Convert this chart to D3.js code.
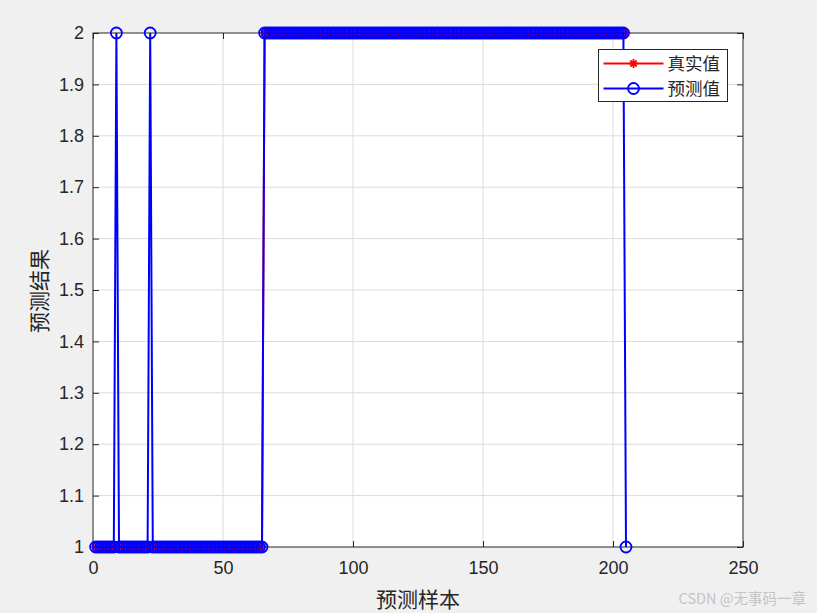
<!DOCTYPE html>
<html lang="zh">
<head>
  <meta charset="UTF-8">
  <title>预测结果</title>
  <script src="https://cdn.jsdelivr.net/npm/d3@7"></script>
  <style>
    body { margin: 0; background: #f0f0f0; }
  </style>
</head>
<body>
<svg class="chart"></svg>
<script>
  // 真实值 (samples 1..205)
  var trueLabel = [
    1,1,1,1,1,1,1,1,1,1,1,1,1,1,1,1,1,1,1,1,
    1,1,1,1,1,1,1,1,1,1,1,1,1,1,1,1,1,1,1,1,
    1,1,1,1,1,1,1,1,1,1,1,1,1,1,1,1,1,1,1,1,
    1,1,1,1,1,2,2,2,2,2,2,2,2,2,2,2,2,2,2,2,
    2,2,2,2,2,2,2,2,2,2,2,2,2,2,2,2,2,2,2,2,
    2,2,2,2,2,2,2,2,2,2,2,2,2,2,2,2,2,2,2,2,
    2,2,2,2,2,2,2,2,2,2,2,2,2,2,2,2,2,2,2,2,
    2,2,2,2,2,2,2,2,2,2,2,2,2,2,2,2,2,2,2,2,
    2,2,2,2,2,2,2,2,2,2,2,2,2,2,2,2,2,2,2,2,
    2,2,2,2,2,2,2,2,2,2,2,2,2,2,2,2,2,2,2,2,
    2,2,2,2,2
  ];
  // 预测值
  var predLabel = [
    1,1,1,1,1,1,1,1,2,1,1,1,1,1,1,1,1,1,1,1,
    1,2,1,1,1,1,1,1,1,1,1,1,1,1,1,1,1,1,1,1,
    1,1,1,1,1,1,1,1,1,1,1,1,1,1,1,1,1,1,1,1,
    1,1,1,1,1,2,2,2,2,2,2,2,2,2,2,2,2,2,2,2,
    2,2,2,2,2,2,2,2,2,2,2,2,2,2,2,2,2,2,2,2,
    2,2,2,2,2,2,2,2,2,2,2,2,2,2,2,2,2,2,2,2,
    2,2,2,2,2,2,2,2,2,2,2,2,2,2,2,2,2,2,2,2,
    2,2,2,2,2,2,2,2,2,2,2,2,2,2,2,2,2,2,2,2,
    2,2,2,2,2,2,2,2,2,2,2,2,2,2,2,2,2,2,2,2,
    2,2,2,2,2,2,2,2,2,2,2,2,2,2,2,2,2,2,2,2,
    2,2,2,2,1
  ];
  var xTicks = [0, 50, 100, 150, 200, 250];
  var yTicks = [1, 1.1, 1.2, 1.3, 1.4, 1.5, 1.6, 1.7, 1.8, 1.9, 2];
  var seriesNames = ['真实值', '预测值'];

  var svgWidth = 817;
  var svgHeight = 613;
  var margin = {top: 33, right: 74, bottom: 66, left: 93};
  var w = svgWidth - margin.left - margin.right;
  var h = svgHeight - margin.top - margin.bottom;
  var tickFont = '"Liberation Sans", Arial, sans-serif';
  var cjkFont = '"Noto Sans CJK SC", sans-serif';

  var x = d3.scaleLinear().domain([0, 250]).range([0, w]);
  var y = d3.scaleLinear().domain([1, 2]).range([h, 0]);

  var svg = d3.select('.chart')
    .attr('width', svgWidth)
    .attr('height', svgHeight)
    .style('display', 'block');

  svg.append('rect').attr('width', svgWidth).attr('height', svgHeight).attr('fill', '#f0f0f0');

  var g = svg.append('g').attr('transform', 'translate(' + margin.left + ',' + margin.top + ')');
  g.append('rect').attr('width', w).attr('height', h).attr('fill', '#fff');

  // grid
  g.append('g').selectAll('line').data(xTicks.slice(1, -1)).enter().append('line')
    .attr('x1', d => x(d)).attr('x2', d => x(d)).attr('y1', 0).attr('y2', h)
    .attr('stroke', '#dcdcdc').attr('stroke-width', 1);
  g.append('g').selectAll('line').data(yTicks.slice(1, -1)).enter().append('line')
    .attr('y1', d => y(d)).attr('y2', d => y(d)).attr('x1', 0).attr('x2', w)
    .attr('stroke', '#dcdcdc').attr('stroke-width', 1);

  // axes (ticks pointing inward, mirrored)
  function styleAxis(sel) {
    sel.select('.domain').remove();
    sel.selectAll('line').attr('stroke', '#262626');
    sel.selectAll('text').attr('fill', '#262626')
      .style('font-family', tickFont).style('font-size', '18px');
  }
  g.append('g').attr('transform', 'translate(0,' + h + ')')
    .call(d3.axisBottom(x).tickValues(xTicks).tickSize(-6).tickPadding(14).tickFormat(d3.format('d')))
    .call(styleAxis);
  g.append('g')
    .call(d3.axisTop(x).tickValues(xTicks).tickSize(-6).tickFormat(''))
    .call(styleAxis);
  g.append('g')
    .call(d3.axisLeft(y).tickValues(yTicks).tickSize(-6).tickPadding(9).tickFormat(d3.format('~g')))
    .call(styleAxis);
  g.append('g').attr('transform', 'translate(' + w + ',0)')
    .call(d3.axisRight(y).tickValues(yTicks).tickSize(-6).tickFormat(''))
    .call(styleAxis);

  g.append('rect').attr('width', w).attr('height', h)
    .attr('fill', 'none').attr('stroke', '#262626').attr('stroke-width', 1);

  var line = d3.line().x((d, i) => x(i + 1)).y(d => y(d));
  var star = 'M-4.5,0H4.5M0,-4.5V4.5M-3.2,-3.2L3.2,3.2M-3.2,3.2L3.2,-3.2';

  // 真实值
  g.append('path').datum(trueLabel).attr('d', line)
    .attr('fill', 'none').attr('stroke', '#ff0000').attr('stroke-width', 2);
  g.append('g').selectAll('path').data(trueLabel).enter().append('path')
    .attr('transform', (d, i) => 'translate(' + x(i + 1) + ',' + y(d) + ')')
    .attr('d', star).attr('stroke', '#ff0000').attr('stroke-width', 1.5).attr('fill', 'none');

  // 预测值
  g.append('path').datum(predLabel).attr('d', line)
    .attr('fill', 'none').attr('stroke', '#0000ff').attr('stroke-width', 2);
  g.append('g').selectAll('circle').data(predLabel).enter().append('circle')
    .attr('cx', (d, i) => x(i + 1)).attr('cy', d => y(d)).attr('r', 5.5)
    .attr('fill', 'none').attr('stroke', '#0000ff').attr('stroke-width', 1.8);

  // labels
  svg.append('text').attr('x', 418).attr('y', 607)
    .attr('text-anchor', 'middle').attr('fill', '#262626')
    .style('font-family', cjkFont).style('font-size', '21px').text('预测样本');
  svg.append('text')
    .attr('transform', 'translate(47,' + 291 + ') rotate(-90)')
    .attr('text-anchor', 'middle').attr('fill', '#262626')
    .style('font-family', cjkFont).style('font-size', '21px').text('预测结果');

  // legend
  var lg = svg.append('g').attr('transform', 'translate(598.5,49.5)');
  lg.append('rect').attr('width', 129).attr('height', 52)
    .attr('fill', '#fff').attr('stroke', '#262626').attr('stroke-width', 1);
  var colors = ['#ff0000', '#0000ff'];
  seriesNames.forEach(function(name, i) {
    var yy = 14 + i * 25;
    lg.append('line').attr('x1', 5).attr('x2', 65).attr('y1', yy).attr('y2', yy)
      .attr('stroke', colors[i]).attr('stroke-width', 2);
    if (i === 0) {
      lg.append('path').attr('transform', 'translate(35,' + yy + ')').attr('d', star)
        .attr('stroke', colors[i]).attr('stroke-width', 1.8).attr('fill', 'none');
    } else {
      lg.append('circle').attr('cx', 35).attr('cy', yy).attr('r', 5.5)
        .attr('fill', 'none').attr('stroke', colors[i]).attr('stroke-width', 1.8);
    }
    lg.append('text').attr('x', 69).attr('y', yy + 6.5).attr('fill', '#262626')
      .style('font-family', cjkFont).style('font-size', '17.5px').text(name);
  });

  // watermark
  svg.append('text').attr('x', 806).attr('y', 604).attr('text-anchor', 'end')
    .attr('fill', '#c4c4c4').style('font-family', cjkFont).style('font-size', '14.5px')
    .text('CSDN @无事码一章');
</script>
</body>
</html>
